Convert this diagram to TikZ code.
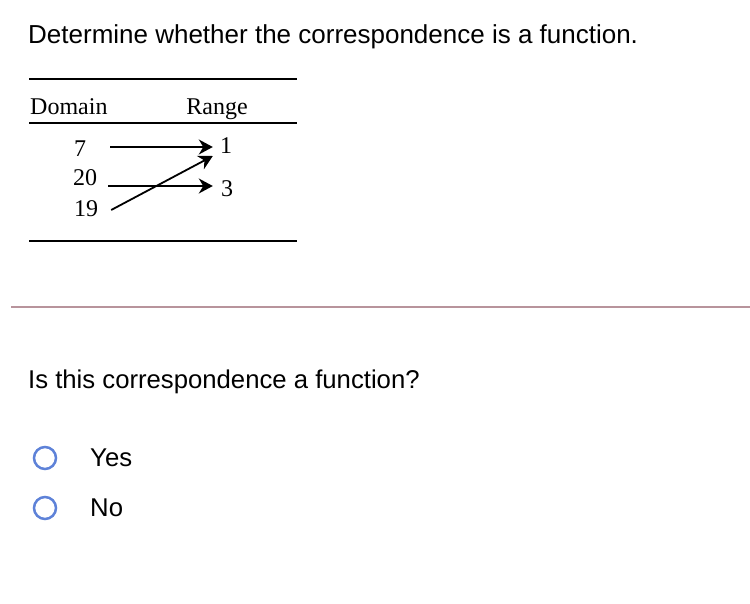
\documentclass[tikz,border=0pt]{standalone}
\usepackage{fontspec}
\setmainfont{Liberation Sans}
\newfontfamily\tms{Liberation Serif}
\usetikzlibrary{arrows.meta}
\definecolor{sepcol}{HTML}{B8949C}
\definecolor{radiocol}{HTML}{5E82D8}
\begin{document}
\begin{tikzpicture}[x=1pt,y=-1pt,
  sans/.style={font=\fontsize{25.7}{30}\selectfont, anchor=base west, inner sep=0pt},
  tab/.style={font=\tms\fontsize{24}{28}\selectfont, inner sep=0pt},
  rule/.style={line width=1.6pt},
  arr/.style={line width=1.8pt, -{Stealth[length=14pt,width=15pt,inset=4.5pt]}},
  radio/.style={circle, draw=radiocol, line width=2.5pt, minimum size=22pt, inner sep=0pt}]
\useasboundingbox (0,0) rectangle (750,604);
\node[sans, font=\fontsize{26}{30}\selectfont] (title) at (28,44) {Determine whether the correspondence is a function.};
\draw[rule] (29,79) coordinate (r1a) -- (297,79) coordinate (r1b);
\node[tab, anchor=base west] (dom) at (30,115) {Domain};
\node[tab, anchor=base] (ran) at (217,115) {Range};
\draw[rule] (29,123) coordinate (r2a) -- (297,123) coordinate (r2b);
\node[tab, anchor=base] (n7) at (80,157) {7};
\node[tab, anchor=base] (n20) at (85,186) {20};
\node[tab, anchor=base] (n19) at (86,217) {19};
\node[tab, anchor=base] (n1) at (226,154) {1};
\node[tab, anchor=base] (n3) at (227,197) {3};
\draw[arr] (n7.east |- 0,147) ++(24,0) coordinate (a1) -- ([xshift=-7pt]n1.west |- 0,147) coordinate (b1);
\draw[arr] (n20.east |- 0,186) ++(11,0) coordinate (a2) -- ([xshift=-8pt]n3.west |- 0,186) coordinate (b2);
\draw[arr] (n19.east |- 0,210) ++(13,0) coordinate (a3) -- ([xshift=-7pt]n1.west |- 0,156) coordinate (b3);
\draw[rule] (29,241) coordinate (r3a) -- (297,241) coordinate (r3b);
\draw[sepcol, line width=2pt] (11,306.5) coordinate (s1) -- (750,306.5) coordinate (s2);
\node[sans] (q) at (28,388) {Is this correspondence a function?};
\node[radio] (ryes) at (45,458) {};
\node[sans] (yes) at (90,466) {Yes};
\node[radio] (rno) at (45,508) {};
\node[sans] (no) at (90,516) {No};
\end{tikzpicture}
\end{document}
